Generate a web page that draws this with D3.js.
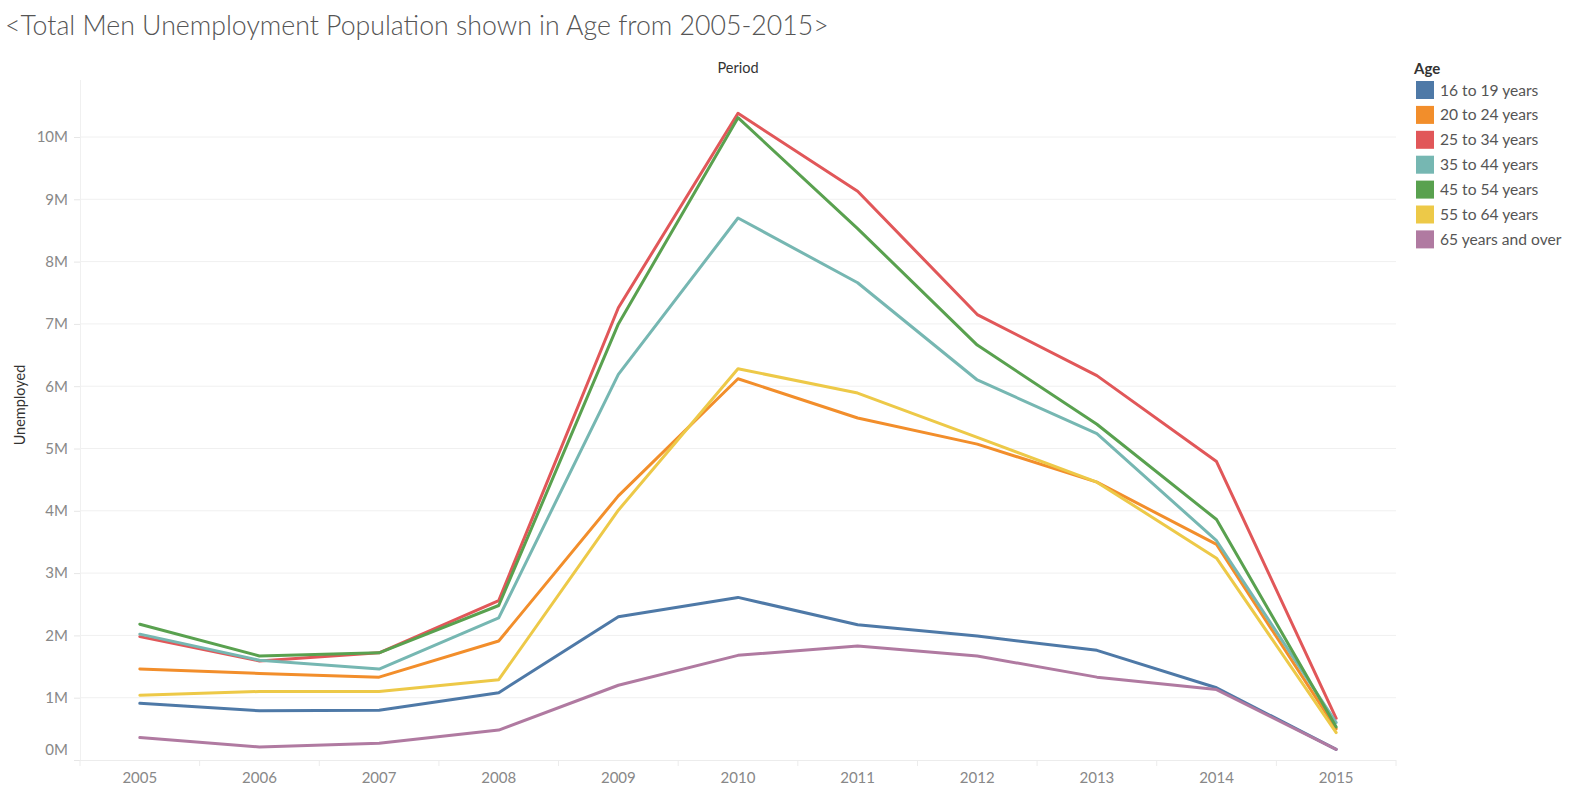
<!DOCTYPE html>
<html>
<head>
<meta charset="utf-8">
<script src="https://cdn.jsdelivr.net/npm/d3@7"></script>
<style>
  html, body { margin: 0; padding: 0; background: #fff; }
  svg { display: block; font-family: Lato, "Open Sans", sans-serif; }
</style>
</head>
<body>
<svg id="chart" width="1588" height="788"></svg>
<script>
const years = ["2005","2006","2007","2008","2009","2010","2011","2012","2013","2014","2015"];
const ageGroups = ["16 to 19 years","20 to 24 years","25 to 34 years","35 to 44 years","45 to 54 years","55 to 64 years","65 years and over"];
const colors = ["#4e79a7","#f28e2b","#e15759","#76b7b2","#59a14f","#edc948","#b07aa1"];
// values in millions
const age16to19 = [0.91, 0.79, 0.80, 1.08, 2.30, 2.61, 2.17, 1.99, 1.76, 1.16, 0.17];
const age20to24 = [1.46, 1.39, 1.33, 1.91, 4.24, 6.12, 5.49, 5.07, 4.46, 3.46, 0.50];
const age25to34 = [1.98, 1.59, 1.72, 2.56, 7.26, 10.38, 9.13, 7.15, 6.17, 4.79, 0.67];
const age35to44 = [2.02, 1.60, 1.46, 2.28, 6.19, 8.70, 7.66, 6.10, 5.24, 3.52, 0.60];
const age45to54 = [2.18, 1.67, 1.72, 2.48, 7.00, 10.31, 8.53, 6.66, 5.39, 3.86, 0.53];
const age55to64 = [1.04, 1.10, 1.10, 1.29, 4.01, 6.28, 5.89, 5.18, 4.46, 3.24, 0.44];
const age65plus = [0.36, 0.21, 0.27, 0.48, 1.20, 1.68, 1.83, 1.67, 1.33, 1.13, 0.17];
const yTicks = [0,1,2,3,4,5,6,7,8,9,10];

const seriesValues = [age16to19, age20to24, age25to34, age35to44, age45to54, age55to64, age65plus];
const series = ageGroups.map((g, i) => ({ name: g, color: colors[i], values: seriesValues[i] }));

const svg = d3.select("#chart");
const plot = { left: 80, right: 1396, top: 80, bottom: 760 };

const x = d3.scaleBand().domain(years).range([plot.left, plot.right]);
const y = d3.scaleLinear().domain([0, 10]).range([760, 137]);

// title
svg.append("text")
  .attr("x", 5).attr("y", 35)
  .attr("fill", "#555").attr("font-size", 26.7).attr("font-weight", 300)
  .text("<Total Men Unemployment Population shown in Age from 2005-2015>");

// header
svg.append("text")
  .attr("x", (plot.left + plot.right) / 2).attr("y", 73)
  .attr("text-anchor", "middle").attr("fill", "#333").attr("font-size", 14.5)
  .text("Period");

// y label
svg.append("text")
  .attr("transform", `translate(25,${405}) rotate(-90)`)
  .attr("text-anchor", "middle").attr("fill", "#333").attr("font-size", 14.5)
  .text("Unemployed");

// gridlines
svg.append("g").selectAll("line").data(yTicks.filter(d => d > 0)).join("line")
  .attr("x1", plot.left).attr("x2", plot.right)
  .attr("y1", d => y(d)).attr("y2", d => y(d))
  .attr("stroke", "#f0f0f0").attr("stroke-width", 1);

// left pane line
svg.append("line")
  .attr("x1", plot.left + 0.5).attr("x2", plot.left + 0.5)
  .attr("y1", plot.top).attr("y2", plot.bottom)
  .attr("stroke", "#f0f0f0");

// y axis
const yAxis = d3.axisLeft(y).tickValues(yTicks).tickFormat(d => d + "M").tickSize(6).tickPadding(6);
const gy = svg.append("g").attr("transform", `translate(${plot.left},0)`).call(yAxis);
gy.select(".domain").remove();
gy.selectAll(".tick line").attr("stroke", "#e6e6e6");
gy.selectAll(".tick text").attr("fill", "#888").attr("font-size", 15).attr("font-family", "Lato, sans-serif");
gy.selectAll(".tick").filter(d => d === 0).select("text").attr("dy", "-0.35em");

// x axis
const gx = svg.append("g").attr("transform", `translate(0,${plot.bottom})`);
gx.append("line").attr("x1", plot.left).attr("x2", plot.right)
  .attr("y1", 0.5).attr("y2", 0.5).attr("stroke", "#ececec");
gx.selectAll("line.tk").data(years.concat(["end"])).join("line").attr("class", "tk")
  .attr("x1", (d, i) => i < years.length ? x(d) : plot.right)
  .attr("x2", (d, i) => i < years.length ? x(d) : plot.right)
  .attr("y1", 0).attr("y2", 6).attr("stroke", "#ececec");
gx.selectAll("text").data(years).join("text")
  .attr("x", d => x(d) + x.bandwidth() / 2).attr("y", 23)
  .attr("text-anchor", "middle").attr("fill", "#888").attr("font-size", 15)
  .text(d => d);

// lines
const line = d3.line().x((d, i) => x(years[i]) + x.bandwidth() / 2).y(d => y(d));
svg.append("g").selectAll("path").data(series).join("path")
  .attr("d", d => line(d.values))
  .attr("fill", "none").attr("stroke", d => d.color)
  .attr("stroke-width", 3).attr("stroke-linejoin", "round").attr("stroke-linecap", "round");

// legend
const lg = svg.append("g").attr("transform", "translate(1416,0)");
lg.append("text").attr("x", -2).attr("y", 74).attr("fill", "#333")
  .attr("font-size", 15).attr("font-weight", 700).text("Age");
const items = lg.selectAll("g.item").data(series).join("g").attr("class", "item")
  .attr("transform", (d, i) => `translate(0,${81 + i * 24.9})`);
items.append("rect").attr("width", 18).attr("height", 18).attr("fill", d => d.color);
items.append("text").attr("x", 24).attr("y", 14.5).attr("fill", "#555")
  .attr("font-size", 15.6).text(d => d.name);
</script>
</body>
</html>
